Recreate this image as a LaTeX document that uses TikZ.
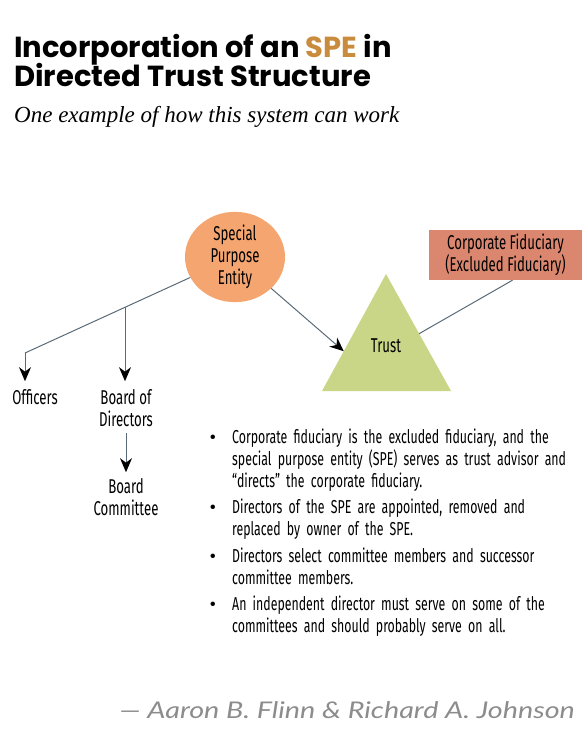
\documentclass[tikz,border=0pt]{standalone}
\usepackage{fontspec}
\usetikzlibrary{arrows.meta,calc,shapes.geometric,positioning}
\setmainfont{Liberation Serif}
\newfontfamily\headfont[Ligatures=TeX]{Poppins}
\newfontfamily\bylinefont[Ligatures=TeX,FakeStretch=1.25]{Lato}
\newfontfamily\labelfont[Ligatures=TeX,FakeStretch=0.66]{Fira Sans}
\definecolor{spegold}{HTML}{C98B3C}
\definecolor{speorange}{HTML}{F5A570}
\definecolor{trustgreen}{HTML}{C9D688}
\definecolor{fidred}{HTML}{DB8770}
\definecolor{linkgray}{HTML}{5A6A78}
\definecolor{bylinegray}{HTML}{8C8C8C}

\begin{document}
\begin{tikzpicture}[x=1pt,y=-1pt,
 lbl/.style={font=\labelfont\fontsize{20}{22}\selectfont,align=center,inner sep=0pt},
 entity/.style={ellipse,fill=speorange,minimum width=100pt,minimum height=84pt,inner sep=0pt,
   font=\labelfont\fontsize{20}{22}\selectfont,align=center},
 fidbox/.style={rectangle,fill=fidred,minimum width=153pt,minimum height=50pt,inner sep=0pt,
   font=\labelfont\fontsize{20}{22}\selectfont,align=center},
 title/.style={anchor=base west,inner sep=0pt,font=\headfont\bfseries\fontsize{29}{30}\selectfont},
 link/.style={draw=linkgray,line width=1pt},
 arr/.style={link,-{Stealth[length=14pt,width=12pt,inset=4.5pt,color=black]}}
]
\useasboundingbox (0,0) rectangle (587,735);

\node[title] (title1) at (14,58) {Incorporation of an \textcolor{spegold}{SPE} in};
\node[title] (title2) at (14,87) {Directed Trust Structure};
\node[anchor=base west,inner sep=0pt,font=\itshape\fontsize{23}{26}\selectfont] (subtitle) at (14,123)
  {One example of how this system can work};

\node[entity] (spe) at (235,257) {Special\\Purpose\\Entity};
\fill[trustgreen] (386,274) coordinate (tA) -- (451,391) coordinate (tR) -- (322,391) coordinate (tL) -- cycle;
\node[lbl] (trust) at (386,346) {Trust};
\node[fidbox] (fid) at (505.5,255) {Corporate Fiduciary\\(Excluded Fiduciary)};
\coordinate (tin) at ($(tA)!0.66!(tL)$);
\coordinate (tout) at ($(tA)!0.51!(tR)$);

\node[lbl] (officers) at (35,397) {Officers};
\node[lbl] (board) at (126,408) {Board of\\Directors};
\node[lbl] (committee) at (126,497) {Board\\Committee};
\coordinate (kink) at (25,353);
\coordinate (split) at (125,307);

\draw[link] (spe) -- (kink);
\draw[arr] (kink) -- ([yshift=8pt]kink |- officers.north);
\draw[arr] (split) -- ([yshift=8pt]split |- board.north);
\draw[arr] ([yshift=-6pt]board.south) -- ([yshift=6pt]committee.north);
\draw[arr] (spe) -- (tin);
\draw[link] ([xshift=7pt]fid.south) -- (tout);

\node[anchor=north west,inner sep=0pt,text width=360pt,font=\labelfont\fontsize{18.7}{22}\selectfont] (notes) at (206,413) {%
  \setlength{\topsep}{0pt}\setlength{\partopsep}{0pt}\setlength{\itemsep}{0pt}\setlength{\parsep}{0pt}%
  \setlength{\leftmargini}{26pt}\setlength{\labelsep}{16pt}%
  \begin{itemize}\setlength{\itemsep}{0.5pt}\setlength{\parsep}{0pt}
  \item Corporate fiduciary is the excluded fiduciary, and the\\special purpose entity (SPE) serves as trust advisor and\\``directs'' the corporate fiduciary.
  \item Directors of the SPE are appointed, removed and\\replaced by owner of the SPE.
  \item Directors select committee members and successor\\committee members.
  \item An independent director must serve on some of the\\committees and should probably serve on all.
  \end{itemize}};

\node[anchor=base east,inner sep=0pt,text=bylinegray,font=\bylinefont\itshape\fontsize{23}{26}\selectfont] (byline) at (575,718)
  {--- Aaron B. Flinn \& Richard A. Johnson};
\end{tikzpicture}
\end{document}
